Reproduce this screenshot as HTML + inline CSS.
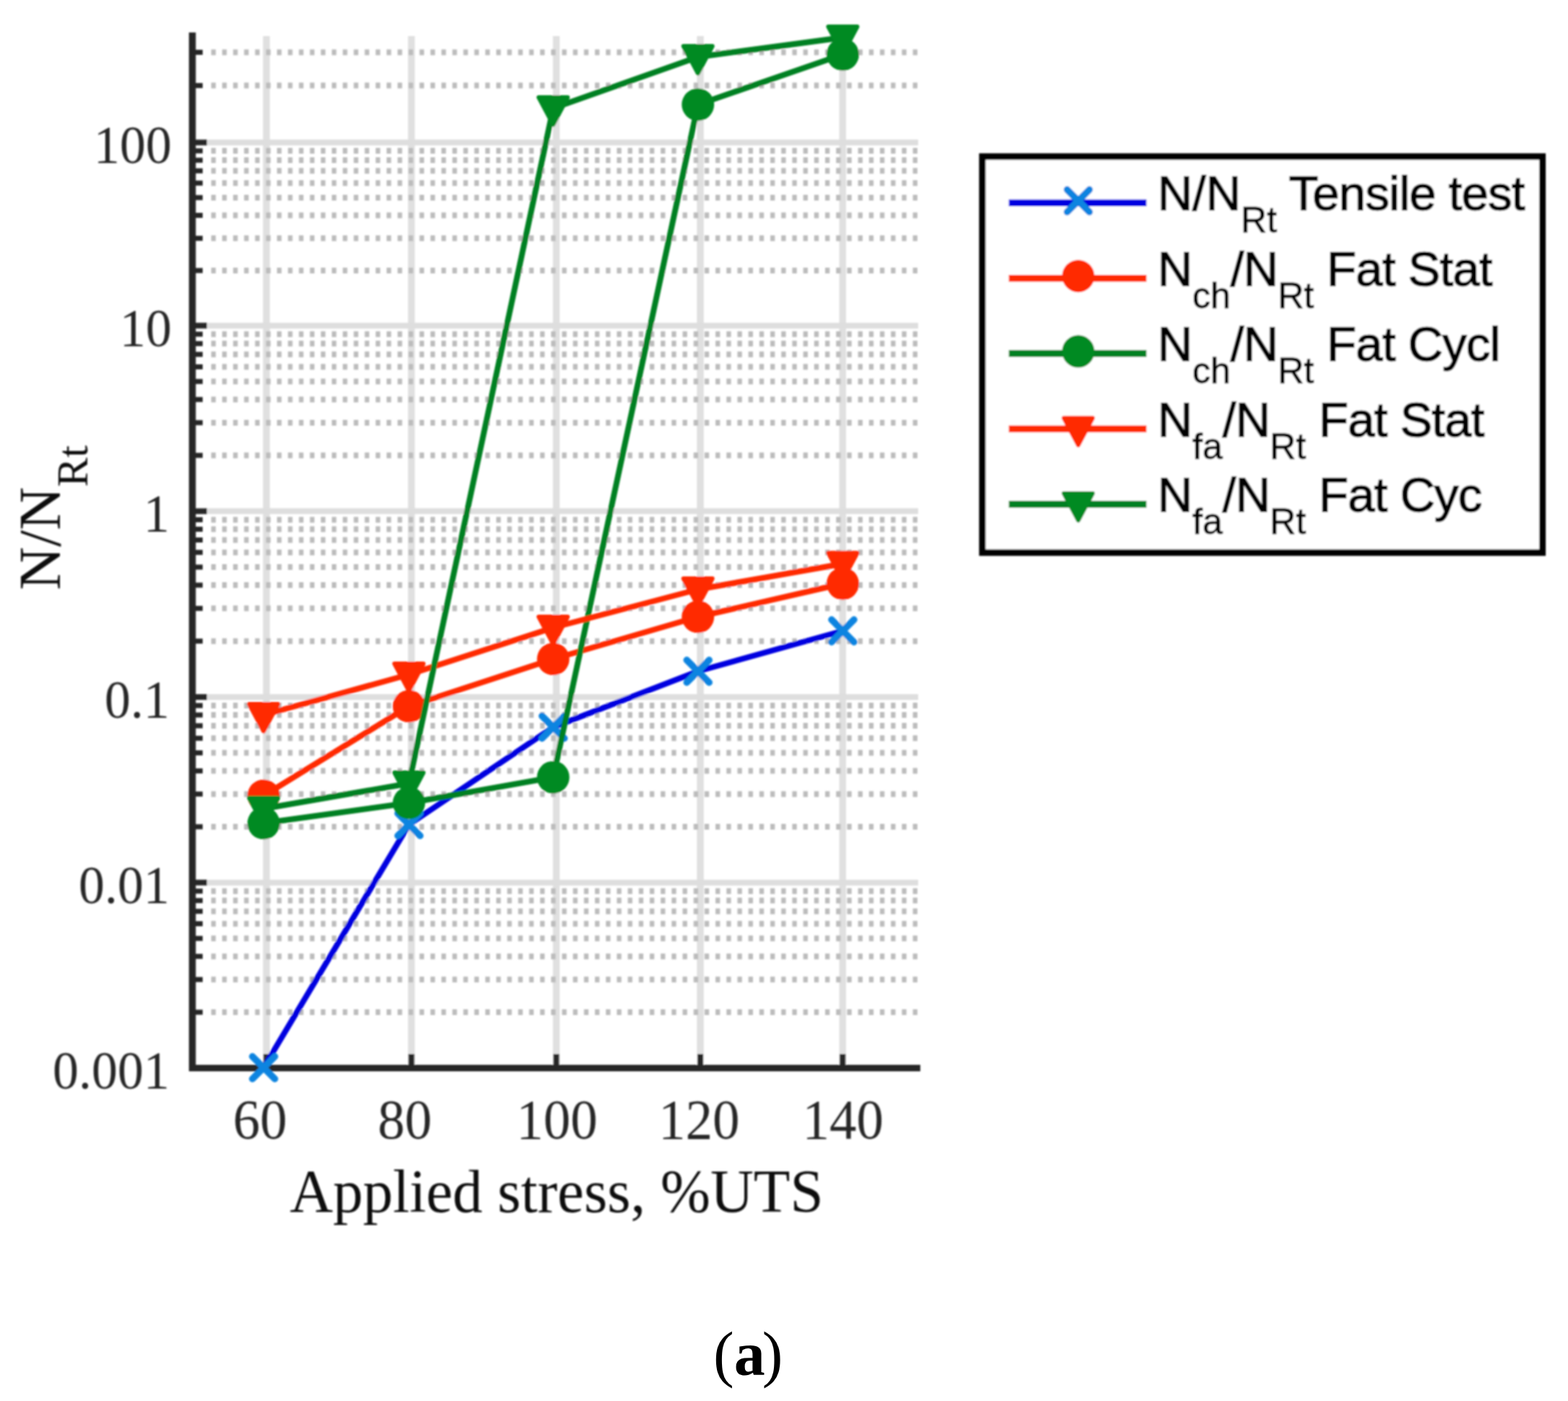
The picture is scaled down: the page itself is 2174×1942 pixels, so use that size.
<!DOCTYPE html>
<html><head><meta charset="utf-8"><title>chart</title>
<style>html,body{margin:0;padding:0;background:#fff}body{width:2174px;height:1942px;position:relative;overflow:hidden}</style>
</head><body>
<svg width="2174" height="1942" viewBox="0 0 2174 1942" style="position:absolute;left:0;top:0">
<defs><filter id="b" x="-5%" y="-5%" width="110%" height="110%"><feGaussianBlur stdDeviation="0.9"/></filter></defs>
<g filter="url(#b)">
<line x1="369.4" y1="50" x2="369.4" y2="1476" stroke="#e0e0e0" stroke-width="9.5"/>
<line x1="570.4" y1="50" x2="570.4" y2="1476" stroke="#e0e0e0" stroke-width="9.5"/>
<line x1="771.3" y1="50" x2="771.3" y2="1476" stroke="#e0e0e0" stroke-width="9.5"/>
<line x1="971.0" y1="50" x2="971.0" y2="1476" stroke="#e0e0e0" stroke-width="9.5"/>
<line x1="1168.3" y1="50" x2="1168.3" y2="1476" stroke="#e0e0e0" stroke-width="9.5"/>
<line x1="271" y1="197.5" x2="1273" y2="197.5" stroke="#dedede" stroke-width="8"/>
<line x1="271" y1="451.4" x2="1273" y2="451.4" stroke="#dedede" stroke-width="8"/>
<line x1="271" y1="708.6" x2="1273" y2="708.6" stroke="#dedede" stroke-width="8"/>
<line x1="271" y1="966.2" x2="1273" y2="966.2" stroke="#dedede" stroke-width="8"/>
<line x1="271" y1="1223.4" x2="1273" y2="1223.4" stroke="#dedede" stroke-width="8"/>
<line x1="292.85" y1="118.6" x2="1272" y2="118.6" stroke="#bcbcbc" stroke-width="8" stroke-dasharray="6.3 8.9"/>
<line x1="292.85" y1="72.5" x2="1272" y2="72.5" stroke="#bcbcbc" stroke-width="8" stroke-dasharray="6.3 8.9"/>
<line x1="292.85" y1="375.0" x2="1272" y2="375.0" stroke="#bcbcbc" stroke-width="8" stroke-dasharray="6.3 8.9"/>
<line x1="292.85" y1="330.3" x2="1272" y2="330.3" stroke="#bcbcbc" stroke-width="8" stroke-dasharray="6.3 8.9"/>
<line x1="292.85" y1="298.5" x2="1272" y2="298.5" stroke="#bcbcbc" stroke-width="8" stroke-dasharray="6.3 8.9"/>
<line x1="292.85" y1="273.9" x2="1272" y2="273.9" stroke="#bcbcbc" stroke-width="8" stroke-dasharray="6.3 8.9"/>
<line x1="292.85" y1="253.8" x2="1272" y2="253.8" stroke="#bcbcbc" stroke-width="8" stroke-dasharray="6.3 8.9"/>
<line x1="292.85" y1="236.8" x2="1272" y2="236.8" stroke="#bcbcbc" stroke-width="8" stroke-dasharray="6.3 8.9"/>
<line x1="292.85" y1="222.1" x2="1272" y2="222.1" stroke="#bcbcbc" stroke-width="8" stroke-dasharray="6.3 8.9"/>
<line x1="292.85" y1="209.1" x2="1272" y2="209.1" stroke="#bcbcbc" stroke-width="8" stroke-dasharray="6.3 8.9"/>
<line x1="292.85" y1="631.2" x2="1272" y2="631.2" stroke="#bcbcbc" stroke-width="8" stroke-dasharray="6.3 8.9"/>
<line x1="292.85" y1="585.9" x2="1272" y2="585.9" stroke="#bcbcbc" stroke-width="8" stroke-dasharray="6.3 8.9"/>
<line x1="292.85" y1="553.8" x2="1272" y2="553.8" stroke="#bcbcbc" stroke-width="8" stroke-dasharray="6.3 8.9"/>
<line x1="292.85" y1="528.8" x2="1272" y2="528.8" stroke="#bcbcbc" stroke-width="8" stroke-dasharray="6.3 8.9"/>
<line x1="292.85" y1="508.5" x2="1272" y2="508.5" stroke="#bcbcbc" stroke-width="8" stroke-dasharray="6.3 8.9"/>
<line x1="292.85" y1="491.2" x2="1272" y2="491.2" stroke="#bcbcbc" stroke-width="8" stroke-dasharray="6.3 8.9"/>
<line x1="292.85" y1="476.3" x2="1272" y2="476.3" stroke="#bcbcbc" stroke-width="8" stroke-dasharray="6.3 8.9"/>
<line x1="292.85" y1="463.2" x2="1272" y2="463.2" stroke="#bcbcbc" stroke-width="8" stroke-dasharray="6.3 8.9"/>
<line x1="292.85" y1="888.7" x2="1272" y2="888.7" stroke="#bcbcbc" stroke-width="8" stroke-dasharray="6.3 8.9"/>
<line x1="292.85" y1="843.3" x2="1272" y2="843.3" stroke="#bcbcbc" stroke-width="8" stroke-dasharray="6.3 8.9"/>
<line x1="292.85" y1="811.1" x2="1272" y2="811.1" stroke="#bcbcbc" stroke-width="8" stroke-dasharray="6.3 8.9"/>
<line x1="292.85" y1="786.1" x2="1272" y2="786.1" stroke="#bcbcbc" stroke-width="8" stroke-dasharray="6.3 8.9"/>
<line x1="292.85" y1="765.7" x2="1272" y2="765.7" stroke="#bcbcbc" stroke-width="8" stroke-dasharray="6.3 8.9"/>
<line x1="292.85" y1="748.5" x2="1272" y2="748.5" stroke="#bcbcbc" stroke-width="8" stroke-dasharray="6.3 8.9"/>
<line x1="292.85" y1="733.6" x2="1272" y2="733.6" stroke="#bcbcbc" stroke-width="8" stroke-dasharray="6.3 8.9"/>
<line x1="292.85" y1="720.4" x2="1272" y2="720.4" stroke="#bcbcbc" stroke-width="8" stroke-dasharray="6.3 8.9"/>
<line x1="292.85" y1="1146.0" x2="1272" y2="1146.0" stroke="#bcbcbc" stroke-width="8" stroke-dasharray="6.3 8.9"/>
<line x1="292.85" y1="1100.7" x2="1272" y2="1100.7" stroke="#bcbcbc" stroke-width="8" stroke-dasharray="6.3 8.9"/>
<line x1="292.85" y1="1068.6" x2="1272" y2="1068.6" stroke="#bcbcbc" stroke-width="8" stroke-dasharray="6.3 8.9"/>
<line x1="292.85" y1="1043.6" x2="1272" y2="1043.6" stroke="#bcbcbc" stroke-width="8" stroke-dasharray="6.3 8.9"/>
<line x1="292.85" y1="1023.3" x2="1272" y2="1023.3" stroke="#bcbcbc" stroke-width="8" stroke-dasharray="6.3 8.9"/>
<line x1="292.85" y1="1006.0" x2="1272" y2="1006.0" stroke="#bcbcbc" stroke-width="8" stroke-dasharray="6.3 8.9"/>
<line x1="292.85" y1="991.1" x2="1272" y2="991.1" stroke="#bcbcbc" stroke-width="8" stroke-dasharray="6.3 8.9"/>
<line x1="292.85" y1="978.0" x2="1272" y2="978.0" stroke="#bcbcbc" stroke-width="8" stroke-dasharray="6.3 8.9"/>
<line x1="292.85" y1="1403.1" x2="1272" y2="1403.1" stroke="#bcbcbc" stroke-width="8" stroke-dasharray="6.3 8.9"/>
<line x1="292.85" y1="1357.8" x2="1272" y2="1357.8" stroke="#bcbcbc" stroke-width="8" stroke-dasharray="6.3 8.9"/>
<line x1="292.85" y1="1325.7" x2="1272" y2="1325.7" stroke="#bcbcbc" stroke-width="8" stroke-dasharray="6.3 8.9"/>
<line x1="292.85" y1="1300.8" x2="1272" y2="1300.8" stroke="#bcbcbc" stroke-width="8" stroke-dasharray="6.3 8.9"/>
<line x1="292.85" y1="1280.4" x2="1272" y2="1280.4" stroke="#bcbcbc" stroke-width="8" stroke-dasharray="6.3 8.9"/>
<line x1="292.85" y1="1263.2" x2="1272" y2="1263.2" stroke="#bcbcbc" stroke-width="8" stroke-dasharray="6.3 8.9"/>
<line x1="292.85" y1="1248.3" x2="1272" y2="1248.3" stroke="#bcbcbc" stroke-width="8" stroke-dasharray="6.3 8.9"/>
<line x1="292.85" y1="1235.2" x2="1272" y2="1235.2" stroke="#bcbcbc" stroke-width="8" stroke-dasharray="6.3 8.9"/>
<line x1="266.7" y1="45" x2="266.7" y2="1484.5" stroke="#262626" stroke-width="9.5"/>
<line x1="262" y1="1480.5" x2="1276" y2="1480.5" stroke="#262626" stroke-width="9"/>
<line x1="266" y1="197.5" x2="287" y2="197.5" stroke="#262626" stroke-width="8"/>
<line x1="266" y1="451.4" x2="287" y2="451.4" stroke="#262626" stroke-width="8"/>
<line x1="266" y1="708.6" x2="287" y2="708.6" stroke="#262626" stroke-width="8"/>
<line x1="266" y1="966.2" x2="287" y2="966.2" stroke="#262626" stroke-width="8"/>
<line x1="266" y1="1223.4" x2="287" y2="1223.4" stroke="#262626" stroke-width="8"/>
<line x1="266" y1="118.6" x2="281" y2="118.6" stroke="#262626" stroke-width="7"/>
<line x1="266" y1="72.5" x2="281" y2="72.5" stroke="#262626" stroke-width="7"/>
<line x1="266" y1="375.0" x2="281" y2="375.0" stroke="#262626" stroke-width="7"/>
<line x1="266" y1="330.3" x2="281" y2="330.3" stroke="#262626" stroke-width="7"/>
<line x1="266" y1="298.5" x2="281" y2="298.5" stroke="#262626" stroke-width="7"/>
<line x1="266" y1="273.9" x2="281" y2="273.9" stroke="#262626" stroke-width="7"/>
<line x1="266" y1="253.8" x2="281" y2="253.8" stroke="#262626" stroke-width="7"/>
<line x1="266" y1="236.8" x2="281" y2="236.8" stroke="#262626" stroke-width="7"/>
<line x1="266" y1="222.1" x2="281" y2="222.1" stroke="#262626" stroke-width="7"/>
<line x1="266" y1="209.1" x2="281" y2="209.1" stroke="#262626" stroke-width="7"/>
<line x1="266" y1="631.2" x2="281" y2="631.2" stroke="#262626" stroke-width="7"/>
<line x1="266" y1="585.9" x2="281" y2="585.9" stroke="#262626" stroke-width="7"/>
<line x1="266" y1="553.8" x2="281" y2="553.8" stroke="#262626" stroke-width="7"/>
<line x1="266" y1="528.8" x2="281" y2="528.8" stroke="#262626" stroke-width="7"/>
<line x1="266" y1="508.5" x2="281" y2="508.5" stroke="#262626" stroke-width="7"/>
<line x1="266" y1="491.2" x2="281" y2="491.2" stroke="#262626" stroke-width="7"/>
<line x1="266" y1="476.3" x2="281" y2="476.3" stroke="#262626" stroke-width="7"/>
<line x1="266" y1="463.2" x2="281" y2="463.2" stroke="#262626" stroke-width="7"/>
<line x1="266" y1="888.7" x2="281" y2="888.7" stroke="#262626" stroke-width="7"/>
<line x1="266" y1="843.3" x2="281" y2="843.3" stroke="#262626" stroke-width="7"/>
<line x1="266" y1="811.1" x2="281" y2="811.1" stroke="#262626" stroke-width="7"/>
<line x1="266" y1="786.1" x2="281" y2="786.1" stroke="#262626" stroke-width="7"/>
<line x1="266" y1="765.7" x2="281" y2="765.7" stroke="#262626" stroke-width="7"/>
<line x1="266" y1="748.5" x2="281" y2="748.5" stroke="#262626" stroke-width="7"/>
<line x1="266" y1="733.6" x2="281" y2="733.6" stroke="#262626" stroke-width="7"/>
<line x1="266" y1="720.4" x2="281" y2="720.4" stroke="#262626" stroke-width="7"/>
<line x1="266" y1="1146.0" x2="281" y2="1146.0" stroke="#262626" stroke-width="7"/>
<line x1="266" y1="1100.7" x2="281" y2="1100.7" stroke="#262626" stroke-width="7"/>
<line x1="266" y1="1068.6" x2="281" y2="1068.6" stroke="#262626" stroke-width="7"/>
<line x1="266" y1="1043.6" x2="281" y2="1043.6" stroke="#262626" stroke-width="7"/>
<line x1="266" y1="1023.3" x2="281" y2="1023.3" stroke="#262626" stroke-width="7"/>
<line x1="266" y1="1006.0" x2="281" y2="1006.0" stroke="#262626" stroke-width="7"/>
<line x1="266" y1="991.1" x2="281" y2="991.1" stroke="#262626" stroke-width="7"/>
<line x1="266" y1="978.0" x2="281" y2="978.0" stroke="#262626" stroke-width="7"/>
<line x1="266" y1="1403.1" x2="281" y2="1403.1" stroke="#262626" stroke-width="7"/>
<line x1="266" y1="1357.8" x2="281" y2="1357.8" stroke="#262626" stroke-width="7"/>
<line x1="266" y1="1325.7" x2="281" y2="1325.7" stroke="#262626" stroke-width="7"/>
<line x1="266" y1="1300.8" x2="281" y2="1300.8" stroke="#262626" stroke-width="7"/>
<line x1="266" y1="1280.4" x2="281" y2="1280.4" stroke="#262626" stroke-width="7"/>
<line x1="266" y1="1263.2" x2="281" y2="1263.2" stroke="#262626" stroke-width="7"/>
<line x1="266" y1="1248.3" x2="281" y2="1248.3" stroke="#262626" stroke-width="7"/>
<line x1="266" y1="1235.2" x2="281" y2="1235.2" stroke="#262626" stroke-width="7"/>
<line x1="369.4" y1="1461" x2="369.4" y2="1480" stroke="#262626" stroke-width="8"/>
<line x1="570.4" y1="1461" x2="570.4" y2="1480" stroke="#262626" stroke-width="8"/>
<line x1="771.3" y1="1461" x2="771.3" y2="1480" stroke="#262626" stroke-width="8"/>
<line x1="971.0" y1="1461" x2="971.0" y2="1480" stroke="#262626" stroke-width="8"/>
<line x1="1168.3" y1="1461" x2="1168.3" y2="1480" stroke="#262626" stroke-width="8"/>
<polyline points="365.5,1480 567,1143 767,1008 967.7,930.5 1168.5,874.5" fill="none" stroke="#0000e0" stroke-width="8" stroke-linejoin="round"/>
<path d="M350.0,1464.5L381.0,1495.5M350.0,1495.5L381.0,1464.5" stroke="#0a84e0" stroke-width="9.5" stroke-linecap="round"/>
<path d="M551.5,1127.5L582.5,1158.5M551.5,1158.5L582.5,1127.5" stroke="#0a84e0" stroke-width="9.5" stroke-linecap="round"/>
<path d="M751.5,992.5L782.5,1023.5M751.5,1023.5L782.5,992.5" stroke="#0a84e0" stroke-width="9.5" stroke-linecap="round"/>
<path d="M952.2,915.0L983.2,946.0M952.2,946.0L983.2,915.0" stroke="#0a84e0" stroke-width="9.5" stroke-linecap="round"/>
<path d="M1153.0,859.0L1184.0,890.0M1153.0,890.0L1184.0,859.0" stroke="#0a84e0" stroke-width="9.5" stroke-linecap="round"/>
<polyline points="365.5,1103 567,979 767,913.5 967.7,855 1168.5,809" fill="none" stroke="#ff2a00" stroke-width="8" stroke-linejoin="round"/>
<circle cx="365.5" cy="1103.0" r="22.5" fill="#ff2a00"/>
<circle cx="567.0" cy="979.0" r="22.5" fill="#ff2a00"/>
<circle cx="767.0" cy="913.5" r="22.5" fill="#ff2a00"/>
<circle cx="967.7" cy="855.0" r="22.5" fill="#ff2a00"/>
<circle cx="1168.5" cy="809.0" r="22.5" fill="#ff2a00"/>
<polyline points="365.5,1141 567,1113 767,1077.4 967.7,145 1168.5,75.5" fill="none" stroke="#008020" stroke-width="8" stroke-linejoin="round"/>
<circle cx="365.5" cy="1141.0" r="22.5" fill="#008a24"/>
<circle cx="567.0" cy="1113.0" r="22.5" fill="#008a24"/>
<circle cx="767.0" cy="1077.4" r="22.5" fill="#008a24"/>
<circle cx="967.7" cy="145.0" r="22.5" fill="#008a24"/>
<circle cx="1168.5" cy="75.5" r="22.5" fill="#008a24"/>
<polyline points="365.5,991 567,935 767,870 967.7,817 1168.5,781.5" fill="none" stroke="#ff2a00" stroke-width="8" stroke-linejoin="round"/>
<path d="M345.5,976.0L385.5,976.0L365.5,1013.5Z" fill="#ff2a00" stroke="#ff2a00" stroke-width="6" stroke-linejoin="round"/>
<path d="M547.0,920.0L587.0,920.0L567.0,957.5Z" fill="#ff2a00" stroke="#ff2a00" stroke-width="6" stroke-linejoin="round"/>
<path d="M747.0,855.0L787.0,855.0L767.0,892.5Z" fill="#ff2a00" stroke="#ff2a00" stroke-width="6" stroke-linejoin="round"/>
<path d="M947.7,802.0L987.7,802.0L967.7,839.5Z" fill="#ff2a00" stroke="#ff2a00" stroke-width="6" stroke-linejoin="round"/>
<path d="M1148.5,766.5L1188.5,766.5L1168.5,804.0Z" fill="#ff2a00" stroke="#ff2a00" stroke-width="6" stroke-linejoin="round"/>
<polyline points="365.5,1121 567,1086 767,150 967.7,79 1168.5,52" fill="none" stroke="#008020" stroke-width="8" stroke-linejoin="round"/>
<path d="M345.5,1106.0L385.5,1106.0L365.5,1143.5Z" fill="#008a24" stroke="#008a24" stroke-width="6" stroke-linejoin="round"/>
<path d="M547.0,1071.0L587.0,1071.0L567.0,1108.5Z" fill="#008a24" stroke="#008a24" stroke-width="6" stroke-linejoin="round"/>
<path d="M747.0,135.0L787.0,135.0L767.0,172.5Z" fill="#008a24" stroke="#008a24" stroke-width="6" stroke-linejoin="round"/>
<path d="M947.7,64.0L987.7,64.0L967.7,101.5Z" fill="#008a24" stroke="#008a24" stroke-width="6" stroke-linejoin="round"/>
<path d="M1148.5,37.0L1188.5,37.0L1168.5,74.5Z" fill="#008a24" stroke="#008a24" stroke-width="6" stroke-linejoin="round"/>
<text transform="translate(238,226.0) scale(1,1.03)" font-family="Liberation Serif, serif" font-size="72" text-anchor="end" fill="#262626">100</text>
<text transform="translate(238,479.9) scale(1,1.03)" font-family="Liberation Serif, serif" font-size="72" text-anchor="end" fill="#262626">10</text>
<text transform="translate(235,737.1) scale(1,1.03)" font-family="Liberation Serif, serif" font-size="72" text-anchor="end" fill="#262626">1</text>
<text transform="translate(235,994.7) scale(1,1.03)" font-family="Liberation Serif, serif" font-size="72" text-anchor="end" fill="#262626">0.1</text>
<text transform="translate(235,1251.9) scale(1,1.03)" font-family="Liberation Serif, serif" font-size="72" text-anchor="end" fill="#262626">0.01</text>
<text transform="translate(235,1509.0) scale(1,1.03)" font-family="Liberation Serif, serif" font-size="72" text-anchor="end" fill="#262626">0.001</text>
<text transform="translate(360.6,1578) scale(1,1.04)" font-family="Liberation Serif, serif" font-size="75" text-anchor="middle" fill="#262626">60</text>
<text transform="translate(561.2,1578) scale(1,1.04)" font-family="Liberation Serif, serif" font-size="75" text-anchor="middle" fill="#262626">80</text>
<text transform="translate(772.3,1578) scale(1,1.04)" font-family="Liberation Serif, serif" font-size="75" text-anchor="middle" fill="#262626">100</text>
<text transform="translate(969.3,1578) scale(1,1.04)" font-family="Liberation Serif, serif" font-size="75" text-anchor="middle" fill="#262626">120</text>
<text transform="translate(1168.7,1578) scale(1,1.04)" font-family="Liberation Serif, serif" font-size="75" text-anchor="middle" fill="#262626">140</text>
<text transform="translate(401.7,1679.6) scale(1,1.03)" font-family="Liberation Serif, serif" font-size="83" fill="#111">Applied stress, %UTS</text>
<text transform="translate(83,818) rotate(-90)" font-family="Liberation Serif, serif" font-size="83" fill="#111">N/N<tspan font-size="61" dy="38">Rt</tspan></text>
</g>
<g filter="url(#b)">
<rect x="1362" y="217" width="776.6" height="549" fill="#fff" stroke="#000" stroke-width="9"/>
<line x1="1398.7" y1="281.3" x2="1589.5" y2="281.3" stroke="#0000e0" stroke-width="9.5"/>
<path d="M1479.5,262.8L1510.5,293.8M1479.5,293.8L1510.5,262.8" stroke="#0a84e0" stroke-width="9.5" stroke-linecap="round"/>
<text x="1604.9" y="291.4" font-family="Liberation Sans, Arial, sans-serif" font-size="67" fill="#000" stroke="#000" stroke-width="1.5" xml:space="preserve"><tspan>N/N</tspan><tspan font-size="50" dy="30.9" stroke-width="0.9">Rt</tspan><tspan dy="-30.9" letter-spacing="-0.7"> Tensile test</tspan></text>
<line x1="1398.7" y1="385.7" x2="1589.5" y2="385.7" stroke="#ff2a00" stroke-width="9.5"/>
<circle cx="1495.0" cy="382.7" r="22.5" fill="#ff2a00"/>
<text x="1604.9" y="395.8" font-family="Liberation Sans, Arial, sans-serif" font-size="67" fill="#000" stroke="#000" stroke-width="1.5" xml:space="preserve"><tspan>N</tspan><tspan font-size="50" dy="30.9" stroke-width="0.9">ch</tspan><tspan dy="-30.9" letter-spacing="-0.7">/N</tspan><tspan font-size="50" dy="30.9" stroke-width="0.9">Rt</tspan><tspan dy="-30.9" letter-spacing="-0.7"> Fat Stat</tspan></text>
<line x1="1398.7" y1="490.1" x2="1589.5" y2="490.1" stroke="#008020" stroke-width="9.5"/>
<circle cx="1495.0" cy="487.1" r="22.5" fill="#008a24"/>
<text x="1604.9" y="500.2" font-family="Liberation Sans, Arial, sans-serif" font-size="67" fill="#000" stroke="#000" stroke-width="1.5" xml:space="preserve"><tspan>N</tspan><tspan font-size="50" dy="30.9" stroke-width="0.9">ch</tspan><tspan dy="-30.9" letter-spacing="-0.7">/N</tspan><tspan font-size="50" dy="30.9" stroke-width="0.9">Rt</tspan><tspan dy="-30.9" letter-spacing="-0.7"> Fat Cycl</tspan></text>
<line x1="1398.7" y1="594.5" x2="1589.5" y2="594.5" stroke="#ff2a00" stroke-width="9.5"/>
<path d="M1475.0,579.5L1515.0,579.5L1495.0,617.0Z" fill="#ff2a00" stroke="#ff2a00" stroke-width="6" stroke-linejoin="round"/>
<text x="1604.9" y="604.6" font-family="Liberation Sans, Arial, sans-serif" font-size="67" fill="#000" stroke="#000" stroke-width="1.5" xml:space="preserve"><tspan>N</tspan><tspan font-size="50" dy="30.9" stroke-width="0.9">fa</tspan><tspan dy="-30.9" letter-spacing="-0.7">/N</tspan><tspan font-size="50" dy="30.9" stroke-width="0.9">Rt</tspan><tspan dy="-30.9" letter-spacing="-0.7"> Fat Stat</tspan></text>
<line x1="1398.7" y1="698.9" x2="1589.5" y2="698.9" stroke="#008020" stroke-width="9.5"/>
<path d="M1475.0,683.9L1515.0,683.9L1495.0,721.4Z" fill="#008a24" stroke="#008a24" stroke-width="6" stroke-linejoin="round"/>
<text x="1604.9" y="709.0" font-family="Liberation Sans, Arial, sans-serif" font-size="67" fill="#000" stroke="#000" stroke-width="1.5" xml:space="preserve"><tspan>N</tspan><tspan font-size="50" dy="30.9" stroke-width="0.9">fa</tspan><tspan dy="-30.9" letter-spacing="-0.7">/N</tspan><tspan font-size="50" dy="30.9" stroke-width="0.9">Rt</tspan><tspan dy="-30.9" letter-spacing="-0.7"> Fat Cyc</tspan></text>
</g>
<text x="989.1" y="1905.6" font-family="Liberation Serif, serif" font-size="86" fill="#000">(<tspan font-weight="bold">a</tspan><tspan dx="-4">)</tspan></text>
</svg>
</body></html>
